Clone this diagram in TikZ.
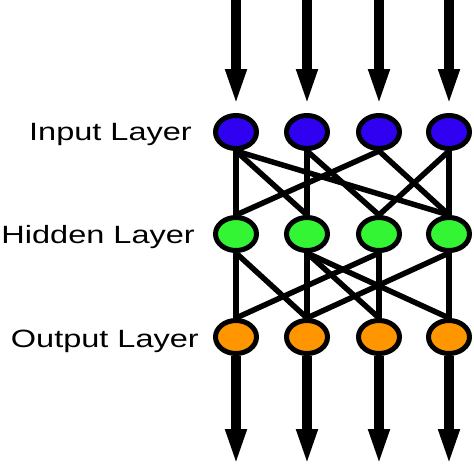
\documentclass[tikz,border=0pt]{standalone}
\usepackage{fontspec}
\setmainfont{Liberation Sans}
\usetikzlibrary{arrows.meta,shapes.geometric}
\definecolor{inblue}{RGB}{48,0,240}
\definecolor{hidgreen}{RGB}{51,245,51}
\definecolor{outorange}{RGB}{255,150,0}
\begin{document}
\begin{tikzpicture}[x=1pt,y=-1pt,
  neuron/.style={ellipse,draw=black,line width=5pt,minimum width=41pt,minimum height=33pt,inner sep=0pt},
  link/.style={line width=5.5pt},
  bigarrow/.style={line width=10.5pt,-{Triangle[width=19pt,length=37pt]}},
  lbl/.style={anchor=base east,inner sep=0pt,font=\fontsize{25}{30}\selectfont}]
\useasboundingbox (0,0) rectangle (474,467);
% labels
\node[lbl] (Lin) at (192,140) {\scalebox{1.3}[1]{Input Layer}};
\node[lbl] (Lhid) at (195,243) {\scalebox{1.3}[1]{Hidden Layer}};
\node[lbl] (Lout) at (199,347) {\scalebox{1.3}[1]{Output Layer}};
% neurons
\foreach \i/\x in {1/236,2/307,3/379,4/449} {
  \node[neuron,fill=inblue] (I\i) at (\x,132) {};
  \node[neuron,fill=hidgreen] (H\i) at (\x,234) {};
  \node[neuron,fill=outorange] (O\i) at (\x,337) {};
  \coordinate (t\i) at (\x,0);
  \coordinate (b\i) at (\x,466);
}
% input -> hidden
\foreach \a/\b in {1/1,1/2,1/4,2/2,2/3,3/1,3/4,4/3,4/4}
  \draw[link] (I\a.south) -- (H\b.north);
% hidden -> output
\foreach \a/\b in {1/1,1/2,2/2,2/3,2/4,3/1,3/3,4/2,4/4}
  \draw[link] (H\a.south) -- (O\b.north);
% arrows
\foreach \i in {1,2,3,4} {
  \draw[bigarrow,shorten >=7pt] (t\i) -- (I\i.north);
  \draw[bigarrow] (O\i.south) -- (b\i);
}
\end{tikzpicture}
\end{document}
